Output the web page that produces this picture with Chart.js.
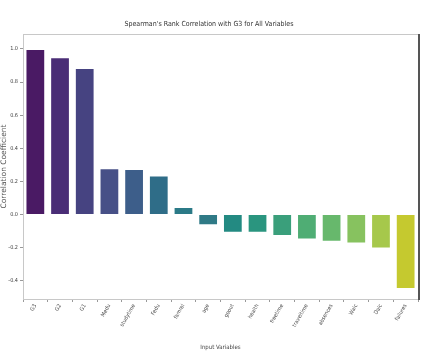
<!DOCTYPE html>
<html>
<head>
<meta charset="utf-8">
<script src="https://cdn.jsdelivr.net/npm/chart.js@4"></script>
<style>
  html, body { margin: 0; padding: 0; background: #fff; }
  #wrap { width: 445px; height: 360px; }
</style>
</head>
<body>
<div id="wrap"><canvas id="chart"></canvas></div>
<script>
var variables = ['G3', 'G2', 'G1', 'Medu', 'studytime', 'Fedu', 'famrel', 'age', 'goout',
    'health', 'freetime', 'traveltime', 'absences', 'Walc', 'Dalc', 'failures'];
var correlations = [1.0, 0.95, 0.885, 0.28, 0.275, 0.235, 0.045, -0.065, -0.11,
    -0.11, -0.13, -0.15, -0.165, -0.175, -0.205, -0.45];
var yTicks = [-0.4, -0.2, 0.0, 0.2, 0.4, 0.6, 0.8, 1.0];
var barColors = ['#4a1a64', '#4a2d76', '#464381', '#475087', '#3d5e8a', '#2f6d88', '#2b7a87', '#2f7a86',
    '#238a82', '#2a957f', '#3a9f7b', '#4fad74', '#67b86c', '#87c25f', '#a6c84b', '#c5c92f'];

var frame = {
    id: 'frame',
    afterDatasetsDraw: function (chart) {
        var a = chart.chartArea, ctx = chart.ctx;
        ctx.save();
        ctx.strokeStyle = '#c8c8c8';
        ctx.lineWidth = 1;
        ctx.strokeRect(a.left + 0.5, a.top + 0.5, a.right - a.left, a.bottom - a.top);
        ctx.strokeStyle = '#555';
        ctx.lineWidth = 2;
        ctx.beginPath();
        ctx.moveTo(a.right + 1, a.top);
        ctx.lineTo(a.right + 1, a.bottom + 1);
        ctx.stroke();
        ctx.restore();
    }
};

var chart = new Chart(
    document.getElementById('chart'),
    {
        type: 'bar',
        data: {
            labels: variables,
            datasets: [{
                label: 'Correlation',
                data: correlations,
                backgroundColor: barColors,
                borderColor: 'rgba(255,255,255,0.7)',
                borderWidth: 1,
                barPercentage: 0.8,
                categoryPercentage: 1.0
            }]
        },
        options: {
            responsive: true,
            maintainAspectRatio: false,
            animation: false,
            layout: {
                padding: { left: 0, right: 27, top: 0, bottom: 0 }
            },
            plugins: {
                legend: { display: false },
                tooltip: { enabled: false },
                title: {
                    display: true,
                    text: "Spearman's Rank Correlation with G3 for All Variables",
                    color: '#333',
                    font: { family: 'DejaVu Sans Condensed', size: 7, weight: 'normal' },
                    padding: { top: 20, bottom: 5.6 }
                }
            },
            scales: {
                x: {
                    grid: { display: true, drawOnChartArea: false, tickLength: 3, color: '#999' },
                    border: { display: false },
                    ticks: {
                        minRotation: 60,
                        maxRotation: 60,
                        autoSkip: false,
                        color: '#444',
                        font: { family: 'DejaVu Sans Condensed', size: 5.5 },
                        padding: 1
                    },
                    title: {
                        display: true,
                        text: 'Input Variables',
                        color: '#444',
                        font: { family: 'DejaVu Sans Condensed', size: 6 },
                        padding: { top: 4, bottom: 9 }
                    },
                    afterFit: function (scale) { scale.height = 61; }
                },
                y: {
                    min: -0.51,
                    max: 1.09,
                    grid: { display: true, drawOnChartArea: false, tickLength: 3, color: '#999' },
                    border: { display: false },
                    afterBuildTicks: function (scale) {
                        scale.ticks = yTicks.map(function (v) { return { value: v }; });
                    },
                    ticks: {
                        color: '#444',
                        font: { family: 'DejaVu Sans Condensed', size: 5.5 },
                        padding: 2,
                        callback: function (v) { return v.toFixed(1); }
                    },
                    title: {
                        display: true,
                        text: 'Correlation Coefficient',
                        color: '#555',
                        font: { family: 'DejaVu Sans', size: 7.5 },
                        padding: { top: 0, bottom: 0 }
                    },
                    afterFit: function (scale) { scale.width = 23; }
                }
            }
        },
        plugins: [frame]
    }
);
</script>
</body>
</html>
